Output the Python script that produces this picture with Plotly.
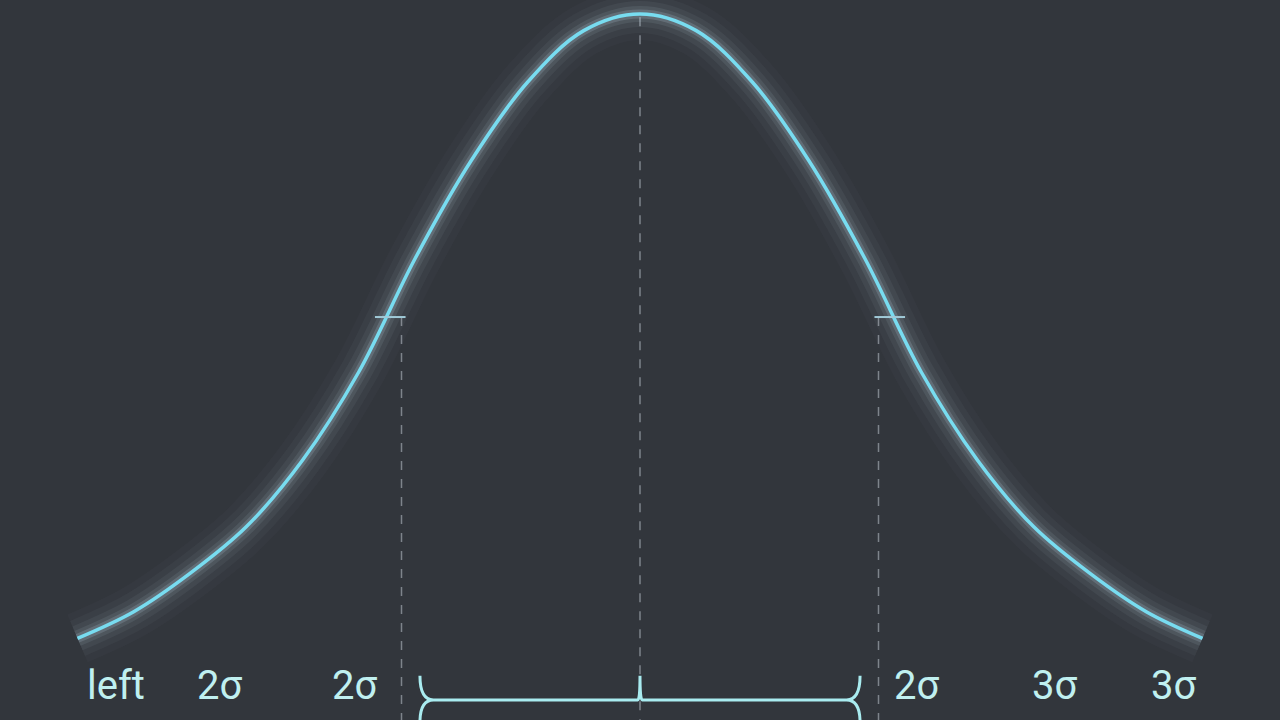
import plotly.graph_objects as go

# ---- data ----
# x in sigma units, y as density
x_left = [-2.5, -2.25, -2.0, -1.75, -1.5, -1.25, -1.0, -0.75, -0.5, -0.25, 0.0]
y_left = [0.025, 0.041, 0.064, 0.092, 0.132, 0.185, 0.253, 0.312, 0.359, 0.390, 0.400]
curve_x = x_left + [-v for v in reversed(x_left[:-1])]
curve_y = y_left + list(reversed(y_left[:-1]))

marker_x = [-1.06, 0.0, 1.06]          # dashed reference lines
marker_top = [0.218, 0.398, 0.218]
inflect_y = 0.218

label_text = ["left", "2σ", "2σ", "2σ", "3σ", "3σ"]
label_x = [-2.33, -1.87, -1.27, 1.23, 1.84, 2.37]
label_y = -0.003

brace_left, brace_right, brace_mid = -0.978, 0.978, 0.0
brace_y = -0.012

BG = "#32363c"
LINE = "#78dcf0"
TEXT = "#c0f0f0"

fig = go.Figure()

# glow layers
for w, a in [(52, 0.025), (38, 0.04), (26, 0.06), (16, 0.09), (9, 0.17)]:
    fig.add_trace(go.Scatter(x=curve_x, y=curve_y, mode="lines",
                             line=dict(color=f"rgba(200,228,242,{a})", width=w, shape="spline"),
                             hoverinfo="skip", showlegend=False))
fig.add_trace(go.Scatter(x=curve_x, y=curve_y, mode="lines",
                         line=dict(color=LINE, width=3.5, shape="spline"),
                         hoverinfo="skip", showlegend=False))

shapes = []
for mx, mt in zip(marker_x, marker_top):
    shapes.append(dict(type="line", xref="x", yref="y", x0=mx, x1=mx, y0=mt, y1=-0.03,
                       line=dict(color="#7e848b", width=1.5, dash="dash"), layer="below"))
# inflection ticks
for cx in (-1.11, 1.11):
    shapes.append(dict(type="line", xref="x", yref="y", x0=cx - 0.068, x1=cx + 0.068,
                       y0=inflect_y, y1=inflect_y, line=dict(color="#a0cad8", width=2)))

# brace
up = 0.0145
dn = -0.0135
dx = 0.06
path = (
    f"M {brace_left},{brace_y + up} "
    f"Q {brace_left},{brace_y} {brace_left + dx},{brace_y} "
    f"L {brace_mid - 0.01},{brace_y} "
    f"Q {brace_mid},{brace_y} {brace_mid},{brace_y + up} "
    f"Q {brace_mid},{brace_y} {brace_mid + 0.01},{brace_y} "
    f"L {brace_right - dx},{brace_y} "
    f"Q {brace_right},{brace_y} {brace_right},{brace_y + up} "
    f"M {brace_left + dx},{brace_y} "
    f"Q {brace_left},{brace_y} {brace_left},{brace_y + dn} "
    f"M {brace_right - dx},{brace_y} "
    f"Q {brace_right},{brace_y} {brace_right},{brace_y + dn}"
)
shapes.append(dict(type="path", xref="x", yref="y", path=path,
                   line=dict(color="#a9ecf0", width=3)))

annotations = [dict(x=lx, y=label_y, xref="x", yref="y", text=t, showarrow=False,
                    font=dict(family="Roboto, Noto Sans, sans-serif", size=40, color=TEXT),
                    xanchor="center", yanchor="middle")
               for t, lx in zip(label_text, label_x)]

fig.update_layout(
    width=1280, height=720,
    margin=dict(l=0, r=0, t=0, b=0),
    paper_bgcolor=BG, plot_bgcolor=BG,
    xaxis=dict(range=[-2.8444, 2.8444], visible=False, fixedrange=True),
    yaxis=dict(range=[-0.024, 0.4084], visible=False, fixedrange=True),
    shapes=shapes, annotations=annotations, showlegend=False,
)

fig.write_html("out.html", config={"displayModeBar": False},
               post_script="document.body.style.margin='0';document.body.style.overflow='hidden';document.body.style.background='#32363c';")
